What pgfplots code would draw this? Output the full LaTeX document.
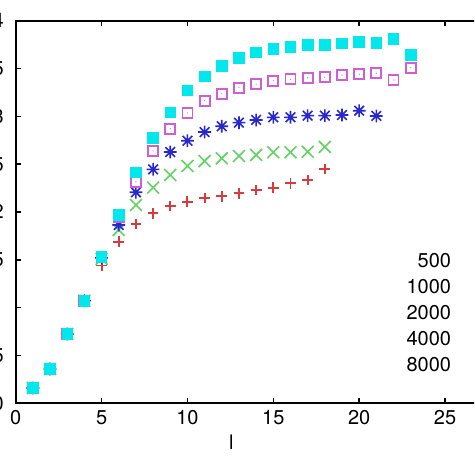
\documentclass[border=0pt]{standalone}
\usepackage{fontspec}
\setmainfont{TeX Gyre Heros}
\usepackage{pgfplots}
\pgfplotsset{compat=1.18}
\usepackage{pgfplotstable}

\definecolor{cRed}{RGB}{215,60,60}
\definecolor{cGreen}{RGB}{100,210,100}
\definecolor{cBlue}{RGB}{40,40,205}
\definecolor{cMag}{RGB}{205,95,210}
\definecolor{cCyan}{RGB}{0,232,236}

\pgfdeclareplotmark{plusx}{%
  \pgfpathmoveto{\pgfqpoint{-\pgfplotmarksize}{0pt}}\pgfpathlineto{\pgfqpoint{\pgfplotmarksize}{0pt}}%
  \pgfpathmoveto{\pgfqpoint{0pt}{-\pgfplotmarksize}}\pgfpathlineto{\pgfqpoint{0pt}{\pgfplotmarksize}}%
  \pgfpathmoveto{\pgfqpoint{-.75\pgfplotmarksize}{-.75\pgfplotmarksize}}\pgfpathlineto{\pgfqpoint{.75\pgfplotmarksize}{.75\pgfplotmarksize}}%
  \pgfpathmoveto{\pgfqpoint{-.75\pgfplotmarksize}{.75\pgfplotmarksize}}\pgfpathlineto{\pgfqpoint{.75\pgfplotmarksize}{-.75\pgfplotmarksize}}%
  \pgfusepathqstroke}
\pgfdeclareplotmark{sqdot}{%
  \pgfpathrectangle{\pgfqpoint{-\pgfplotmarksize}{-\pgfplotmarksize}}{\pgfqpoint{2\pgfplotmarksize}{2\pgfplotmarksize}}%
  \pgfusepathqstroke
  \pgfpathcircle{\pgfpointorigin}{0.3pt}\pgfusepathqfill}

\pgfplotstableread{
l v
1 0.0160
2 0.0359
3 0.0725
4 0.1073
5 0.1441
6 0.1690
7 0.1875
8 0.1986
9 0.2063
10 0.2108
11 0.2146
12 0.2164
13 0.2196
14 0.2230
15 0.2254
16 0.2300
17 0.2335
18 0.2450
}\tA
\pgfplotstableread{
l v
1 0.0160
2 0.0359
3 0.0725
4 0.1073
5 0.1510
6 0.1813
7 0.2073
8 0.2254
9 0.2387
10 0.2481
11 0.2533
12 0.2561
13 0.2585
14 0.2596
15 0.2624
16 0.2624
17 0.2630
18 0.2680
}\tB
\pgfplotstableread{
l v
1 0.0160
2 0.0359
3 0.0725
4 0.1073
5 0.1520
6 0.1864
7 0.2206
8 0.2446
9 0.2627
10 0.2745
11 0.2836
12 0.2896
13 0.2934
14 0.2962
15 0.2990
16 0.2990
17 0.3007
18 0.3007
19 0.3014
20 0.3059
21 0.3004
}\tC
\pgfplotstableread{
l v
1 0.0160
2 0.0359
3 0.0725
4 0.1073
5 0.1525
6 0.1950
7 0.2317
8 0.2638
9 0.2871
10 0.3035
11 0.3164
12 0.3237
13 0.3300
14 0.3335
15 0.3373
16 0.3387
17 0.3404
18 0.3408
19 0.3429
20 0.3440
21 0.3450
22 0.3380
23 0.3509
}\tD
\pgfplotstableread{
l v
1 0.0160
2 0.0359
3 0.0725
4 0.1073
5 0.1533
6 0.1969
7 0.2415
8 0.2777
9 0.3042
10 0.3272
11 0.3419
12 0.3530
13 0.3613
14 0.3670
15 0.3707
16 0.3728
17 0.3749
18 0.3749
19 0.3764
20 0.3780
21 0.3770
22 0.3812
23 0.3641
}\tE

\begin{document}
\begin{tikzpicture}
\useasboundingbox (-7.85pt,-35.35pt) rectangle (229.15pt,201.65pt);
\clip (-7.85pt,-35.35pt) rectangle (229.15pt,201.65pt);
\begin{axis}[
  at={(0pt,0pt)}, anchor=south west,
  scale only axis, width=257.6pt, height=191.3pt,
  xmin=0, xmax=30, ymin=0, ymax=0.4,
  xtick={0,5,10,15,20,25},
  ytick={0,0.05,0.1,0.15,0.2,0.25,0.3,0.35,0.4},
  scaled y ticks=false,
  yticklabel style={/pgf/number format/fixed,/pgf/number format/precision=2, xshift=-2.5pt},
  /pgf/number format/assume math mode=true,
  tick label style={font=\fontsize{10}{12}\selectfont},
  major tick length=2.6pt,
  every tick/.style={line width=0.8pt, black},
  axis line style={line width=0.9pt},
  xlabel={l},
  xlabel style={at={(axis description cs:0.4187,0)}, anchor=north, yshift=-12.5pt, font=\fontsize{10}{12}\selectfont},
  legend plot pos=right,
  legend style={draw=none, fill=none, inner sep=0pt,
    nodes={inner sep=0pt, text height=7.2pt, text depth=0pt},
    row sep=5.8pt, column sep=12pt,
    cells={anchor=east},
    font=\fontsize{10}{12}\selectfont,
    at={(axis cs:22.74,0.1575)}, anchor=north west},
]
\addplot[only marks, mark=+, mark size=2.7pt, color=cRed, mark options={draw=cRed, line width=0.95pt}] table[x=l,y=v] {\tA};
\addlegendentry{500}
\addplot[only marks, mark=x, mark size=4.2pt, color=cGreen, mark options={draw=cGreen, line width=0.8pt}] table[x=l,y=v] {\tB};
\addlegendentry{1000}
\addplot[only marks, mark=plusx, mark size=3.2pt, color=cBlue, mark options={draw=cBlue, line width=0.8pt}] table[x=l,y=v] {\tC};
\addlegendentry{2000}
\addplot[only marks, mark=sqdot, mark size=2.5pt, color=cMag, mark options={draw=cMag, fill=cMag, line width=0.9pt}] table[x=l,y=v] {\tD};
\addlegendentry{4000}
\addplot[only marks, mark=square*, mark size=2.65pt, color=cCyan, mark options={draw=cCyan, fill=cCyan}] table[x=l,y=v] {\tE};
\addlegendentry{8000}
\end{axis}
\end{tikzpicture}
\end{document}
